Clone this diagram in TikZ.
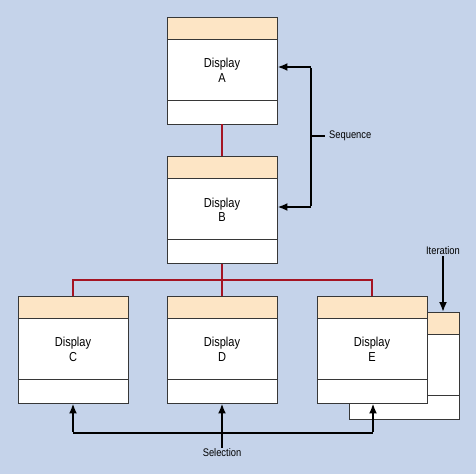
\documentclass[tikz,border=0pt]{standalone}
\usepackage{fontspec}
\setmainfont[FakeStretch=0.85]{Liberation Sans}
\usetikzlibrary{arrows.meta}
\definecolor{bgblue}{RGB}{197,211,234}
\definecolor{peach}{RGB}{253,229,197}
\definecolor{darkred}{RGB}{165,20,35}
\definecolor{boxline}{RGB}{55,55,55}
\begin{document}
\begin{tikzpicture}[x=1pt,y=-1pt,
  dispbox/.style={draw=boxline, line width=0.9pt, fill=white, minimum width=110pt, minimum height=107pt,
    inner sep=0pt, align=center, font=\fontsize{13}{14.5}\selectfont,
    path picture={
      \fill[peach] (path picture bounding box.north west) rectangle ([yshift=-22pt]path picture bounding box.north east);
      \draw[boxline, line width=0.9pt] ([yshift=-22pt]path picture bounding box.north west) -- ([yshift=-22pt]path picture bounding box.north east);
      \draw[boxline, line width=0.9pt] ([yshift=24pt]path picture bounding box.south west) -- ([yshift=24pt]path picture bounding box.south east);
    }},
  redline/.style={draw=darkred, line width=2pt},
  blackline/.style={draw=black, line width=2.2pt},
  arrowline/.style={blackline, -{Latex[length=10pt,width=8pt]}},
  lbl/.style={font=\fontsize{11}{12}\selectfont, inner sep=1pt}
]
\useasboundingbox (0,0) rectangle (476,474);
\fill[bgblue] (0,0) rectangle (476,474);

% back box behind E
\node[dispbox] (Eb) at (404.5,366) {};
\node[dispbox] (A) at (222,70.5) {Display\\A};
\node[dispbox] (B) at (222,210) {Display\\B};
\node[dispbox] (C) at (73,349.5) {Display\\C};
\node[dispbox] (D) at (222,349.5) {Display\\D};
\node[dispbox] (E) at (372,349.5) {Display\\E};

% red hierarchy lines
\coordinate (h) at (222,280);
\draw[redline] (A.south) -- (B.north);
\draw[redline] (B.south) -- (h);
\draw[redline] (C.north) |- (h) -| (E.north);
\draw[redline] (h) -- (D.north);

% sequence
\coordinate (sa) at (311,67);
\coordinate (sb) at (311,207);
\coordinate (sm) at (311,136);
\coordinate (st) at (325,136);
\node[lbl, anchor=west] (seq) at (328,136) {Sequence};
\draw[arrowline] (sa) -- (A.east |- sa);
\draw[arrowline] (sb) -- (B.east |- sb);
\draw[blackline] ([yshift=-1.1pt]sa) -- ([yshift=1.1pt]sb);
\draw[blackline] (sm) -- (st);

% iteration
\node[lbl] (it) at (443,251) {Iteration};
\coordinate (itx) at (443,300);
\draw[arrowline] (it.south) -- (itx |- Eb.north);

% selection
\coordinate (sl) at (73,433);
\coordinate (sr) at (373,433);
\node[lbl] (sel) at (222,453) {Selection};
\draw[blackline] (sl) -- (sr);
\draw[arrowline] ([yshift=1.1pt]sl) -- (C.south);
\draw[arrowline] ([yshift=1.1pt]sr) -- (E.south -| sr);
\draw[arrowline] (sel.north) -- (D.south);
\end{tikzpicture}
\end{document}
